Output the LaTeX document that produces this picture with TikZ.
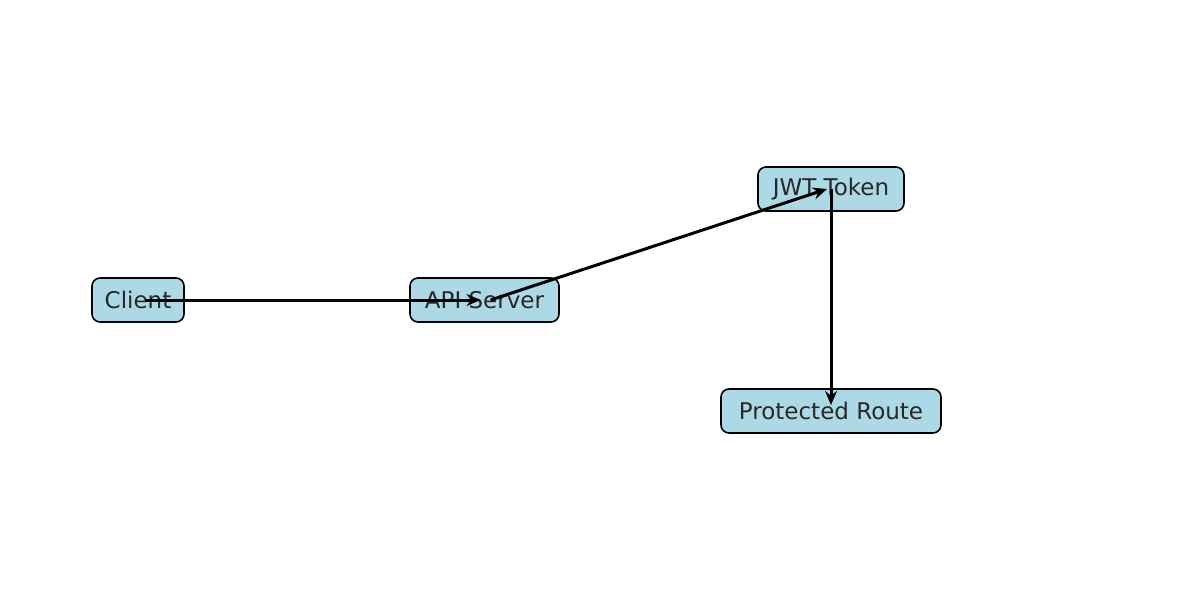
\documentclass[tikz,border=0pt]{standalone}
\usepackage{fontspec}
\setmainfont{DejaVu Sans}
\usetikzlibrary{arrows.meta}
\definecolor{lb}{RGB}{173,216,230}
\definecolor{tx}{RGB}{40,40,40}
\begin{document}
\begin{tikzpicture}[x=0.5pt,y=-0.5pt,
  box/.style={draw=black,line width=0.8pt,fill=lb,rounded corners=4pt,minimum height=22pt,inner sep=0pt,text=tx,font=\fontsize{11.5}{13}\selectfont},
  conn/.style={line width=1.5pt,-{Stealth[length=7pt,width=6pt]}}]
\useasboundingbox (0,0) rectangle (1200,600);
\node[box,minimum width=46pt] (c) at (138,300) {Client};
\node[box,minimum width=74.5pt] (a) at (484.5,300) {API Server};
\node[box,minimum width=73pt] (j) at (831,189) {JWT Token};
\node[box,minimum width=110pt] (p) at (831,411) {Protected Route};
\draw[conn] ([xshift=4pt]c.center) -- ([xshift=-2pt]a.center);
\draw[conn] ([xshift=3pt]a.center) -- ([xshift=-2pt]j.center);
\draw[conn] (j.center) -- ([yshift=3pt]p.center);
\end{tikzpicture}
\end{document}
